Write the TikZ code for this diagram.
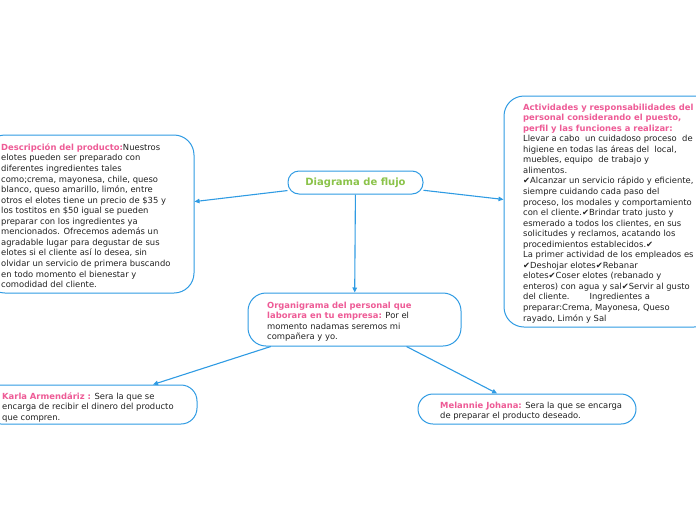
\documentclass[tikz,border=0pt]{standalone}
\usepackage{fontspec}
\setmainfont{DejaVu Sans}
\usetikzlibrary{arrows.meta}
\definecolor{bl}{HTML}{2F9BE3}
\definecolor{pk}{HTML}{EE5B96}
\definecolor{gr}{HTML}{8BC34A}
\definecolor{tx}{HTML}{222222}
\tikzset{
  box/.style={draw=bl, line width=1pt, fill=white, rectangle, inner sep=0pt},
  txt/.style={anchor=north west, inner sep=0pt, align=left, text=tx,
    font=\fontsize{8.4}{10.55}\selectfont},
  conn/.style={draw=bl, line width=1.1pt, -{Triangle[length=5pt,width=4.5pt]}},
}
\newcommand{\hl}[1]{\textcolor{pk}{\textbf{#1}}}
\begin{document}
\begin{tikzpicture}[x=1pt,y=-1pt]
\useasboundingbox (0,0) rectangle (696,520);
% boxes
\node[box, rounded corners=11pt, minimum width=135pt, minimum height=23pt] (C) at (355.5,182.5) {};
\node[font=\fontsize{10}{12}\selectfont\bfseries, text=gr, inner sep=0pt] (Ct) at (355.5,183) {Diagrama de flujo};
\node[box, rounded corners=20pt, minimum width=209pt, minimum height=158pt] (L) at (89.5,214) {};
\node[box, rounded corners=20pt, minimum width=210pt, minimum height=231pt] (R) at (609,211.5) {};
\node[box, rounded corners=18pt, minimum width=213pt, minimum height=53pt] (O) at (354.5,319.5) {};
\node[box, rounded corners=16pt, minimum width=212pt, minimum height=39pt] (K) at (91,404.5) {};
\node[box, rounded corners=15pt, minimum width=218pt, minimum height=30pt] (M) at (527,409) {};
% connectors
\draw[conn] (C) -- (L);
\draw[conn] (C) -- (R);
\draw[conn] (C) -- (O);
\draw[conn] (O) -- (K);
\draw[conn] (O) -- (M);
% texts
\node[txt] (Lt) at (1,143.5) {\hl{Descripción del producto:}Nuestros\\
elotes pueden ser preparado con\\
diferentes ingredientes tales\\
como;crema, mayonesa, chile, queso\\
blanco, queso amarillo, limón, entre\\
otros el elotes tiene un precio de \$35 y\\
los tostitos en \$50 igual se pueden\\
preparar con los ingredientes ya\\
mencionados. Ofrecemos además un\\
agradable lugar para degustar de sus\\
elotes si el cliente así lo desea, sin\\
olvidar un servicio de primera buscando\\
en todo momento el bienestar y\\
comodidad del cliente.};
\node[txt] (Rt) at (523,103.5) {\hl{Actividades y responsabilidades del}\\
\hl{personal considerando el puesto,}\\
\hl{perfil y las funciones a realizar:}\\
Llevar a cabo\ \ un cuidadoso proceso\ \ de\\
higiene en todas las áreas del\ \ local,\\
muebles, equipo\ \ de trabajo y\\
alimentos.\\
✔Alcanzar un servicio rápido y eficiente,\\
siempre cuidando cada paso del\\
proceso, los modales y comportamiento\\
con el cliente.✔Brindar trato justo y\\
esmerado a todos los clientes, en sus\\
solicitudes y reclamos, acatando los\\
procedimientos establecidos.✔\\
La primer actividad de los empleados es\\
✔Deshojar elotes✔Rebanar\\
elotes✔Coser elotes (rebanado y\\
enteros) con agua y sal✔Servir al gusto\\
del cliente.\hspace{20pt}Ingredientes a\\
preparar:Crema, Mayonesa, Queso\\
rayado, Limón y Sal};
\node[txt] (Ot) at (267,301.5) {\hl{Organigrama del personal que}\\
\hl{laborara en tu empresa:} Por el\\
momento nadamas seremos mi\\
compañera y yo.};
\node[txt] (Kt) at (2,392.5) {\hl{Karla Armendáriz :} Sera la que se\\
encarga de recibir el dinero del producto\\
que compren.};
\node[txt] (Mt) at (440,401.5) {\hl{Melannie Johana:} Sera la que se encarga\\
de preparar el producto deseado.};
\end{tikzpicture}
\end{document}
